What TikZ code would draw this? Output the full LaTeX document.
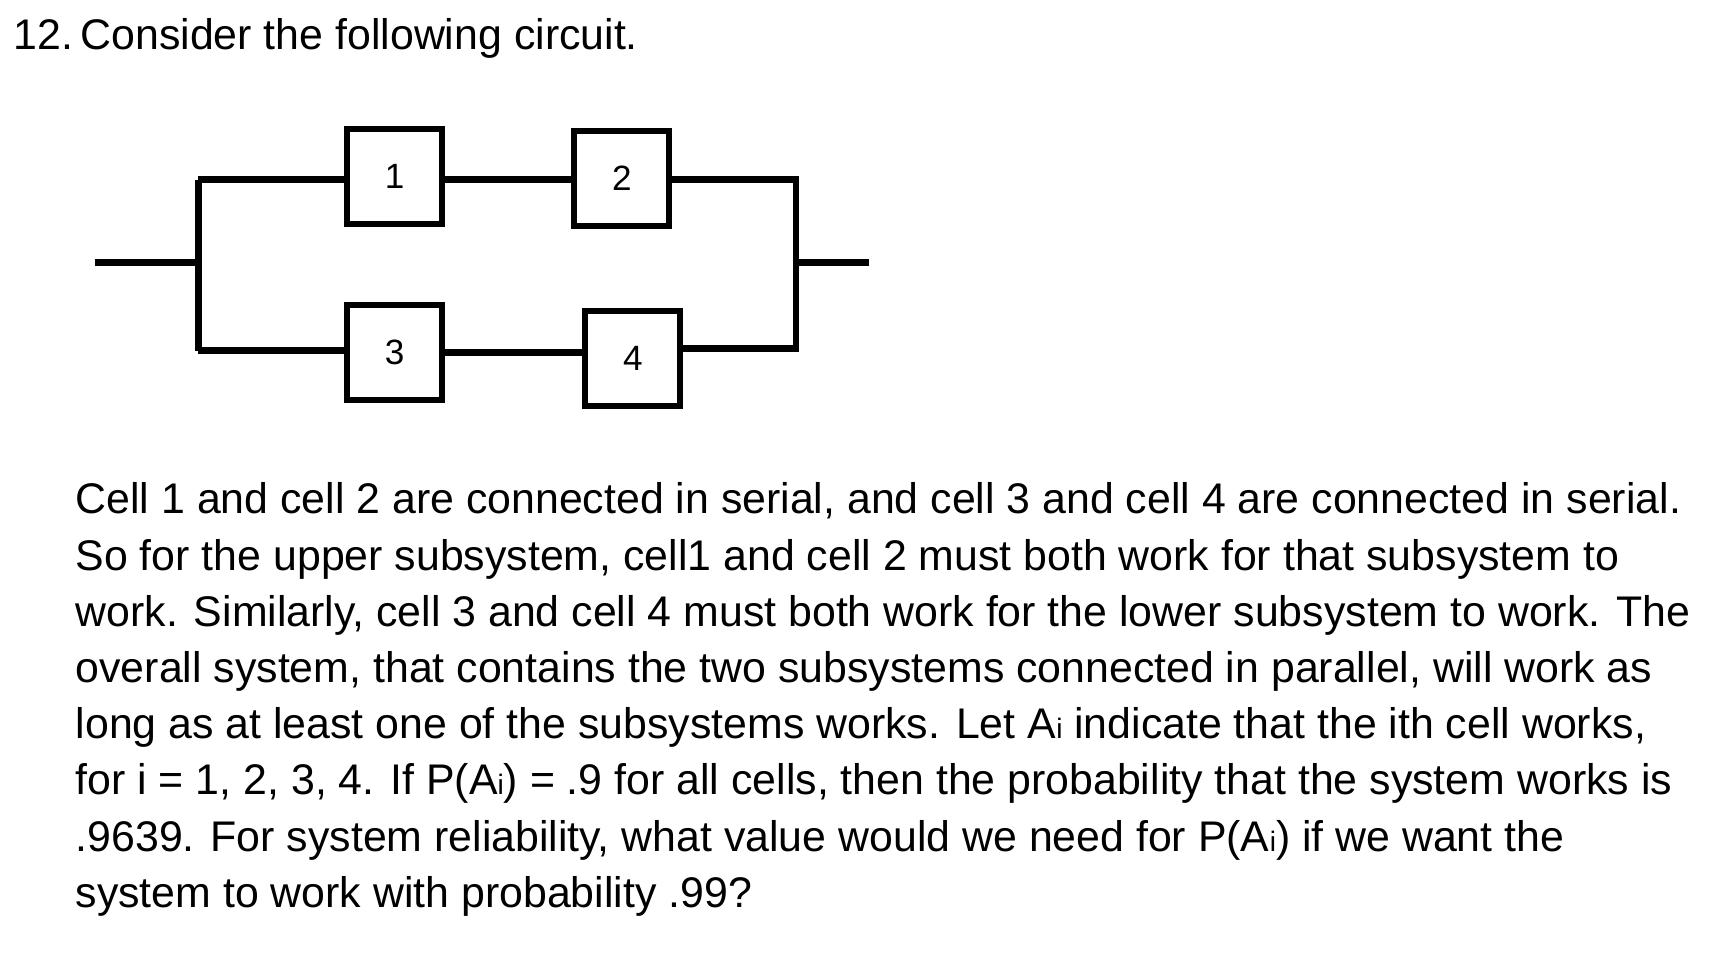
\documentclass[tikz,border=0pt]{standalone}
\usepackage{fontspec}
\setmainfont{Liberation Sans}
\newcommand{\Ai}{A{\fontsize{8}{8}\selectfont i}}
\begin{document}
\begin{tikzpicture}[x=0.011026cm,y=-0.011026cm,
  cell/.style={draw,line width=1.7pt,minimum width=0.95cm,minimum height=0.95cm,inner sep=0pt,font=\fontsize{10}{10}\selectfont},
  wire/.style={line width=1.9pt},
  txt/.style={anchor=base west,inner sep=0pt,font=\fontsize{12.2}{14}\selectfont}]
\useasboundingbox (0,0) rectangle (1560,865);
\node[txt] (title) at (12,45) {12.\,Consider the following circuit.};
\node[cell] (c1) at (358,160) {1};
\node[cell] (c2) at (564,162) {2};
\node[cell] (c3) at (358,320) {3};
\node[cell] (c4) at (574,325) {4};
\coordinate (lt) at (180,163);
\coordinate (lb) at (180,318);
\coordinate (lm) at (180,238);
\coordinate (in) at (86,238);
\coordinate (rt) at (722,163);
\coordinate (rb) at (722,316);
\coordinate (rm) at (722,238);
\coordinate (out) at (788,238);
\draw[wire] (in) -- (lm);
\draw[wire] (lt) -- (lb);
\draw[wire] (lt) -- (lt -| c1.west);
\draw[wire] (lb) -- (lb -| c3.west);
\draw[wire] (c1.east |- lt) -- (c2.west |- lt);
\draw[wire] (c3.east |- 0,320) -- (c4.west |- 0,320);
\draw[wire] (c2.east |- rt) -- (rt) -- (rb) -- (rb -| c4.east);
\draw[wire] (rm) -- (out);
\node[txt] (l1) at (68,466) {Cell 1 and cell 2 are connected in serial, and cell 3 and cell 4 are connected in serial.};
\node[txt] (l2) at (68,517) {So for the upper subsystem, cell1 and cell 2 must both work for that subsystem to};
\node[txt] (l3) at (68,568) {work. Similarly, cell 3 and cell 4 must both work for the lower subsystem to work. The};
\node[txt] (l4) at (68,619) {overall system, that contains the two subsystems connected in parallel, will work as};
\node[txt] (l5) at (68,670) {long as at least one of the subsystems works. Let \Ai{} indicate that the ith cell works,};
\node[txt] (l6) at (68,721) {for i = 1, 2, 3, 4. If P(\Ai) = .9 for all cells, then the probability that the system works is};
\node[txt] (l7) at (68,772) {.9639. For system reliability, what value would we need for P(\Ai) if we want the};
\node[txt] (l8) at (68,823) {system to work with probability .99?};
\end{tikzpicture}
\end{document}
